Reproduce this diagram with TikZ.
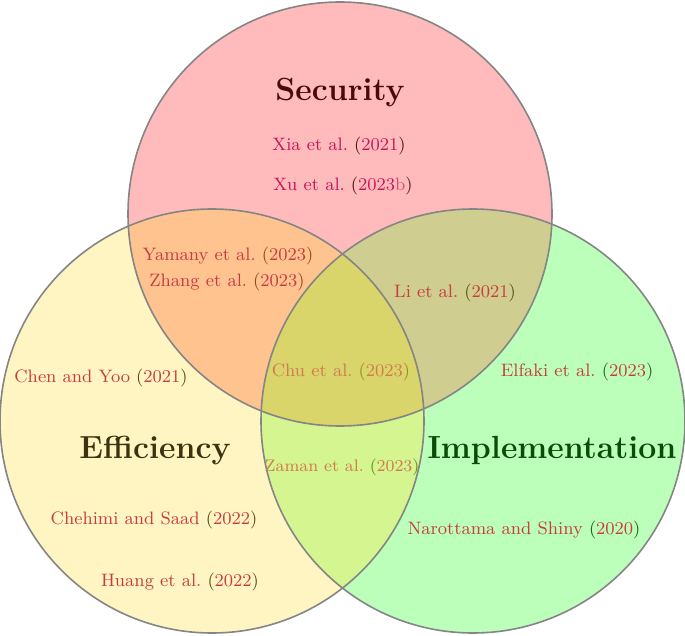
\documentclass[tikz,border=0pt]{standalone}
\usepackage{xcolor}
\definecolor{secfill}{HTML}{FFBBBB}
\definecolor{efffill}{HTML}{FFF5C3}
\definecolor{impfill}{HTML}{BBFFBB}
\definecolor{sefill}{HTML}{FFC390}
\definecolor{sifill}{HTML}{CFCD8F}
\definecolor{eifill}{HTML}{D4F590}
\definecolor{allfill}{HTML}{D9D56A}
\definecolor{edgegray}{HTML}{858585}
\definecolor{sectitle}{HTML}{4B0A0A}
\definecolor{efftitle}{HTML}{3C3210}
\definecolor{imptitle}{HTML}{0A4B0A}
\definecolor{crimsoncite}{HTML}{C8145A}
\definecolor{crimsonb}{HTML}{D0507A}
\definecolor{redcite}{HTML}{C83C40}
\definecolor{orangecite}{HTML}{D27A50}
\definecolor{parsec}{HTML}{501414}
\definecolor{pareff}{HTML}{5A4A14}
\definecolor{parimp}{HTML}{1E6420}
\definecolor{parse}{HTML}{8C4A1E}
\definecolor{parsi}{HTML}{5A5014}
\definecolor{parall}{HTML}{9A8A20}
\definecolor{parei}{HTML}{6A8A20}
\newcommand{\mycite}[4]{\textcolor{#1}{#2}~\textcolor{#4}{(}\textcolor{#1}{#3}\textcolor{#4}{)}}
\tikzset{
  citetext/.style={inner sep=0pt, font=\fontsize{9.0}{11}\selectfont},
  smallcite/.style={inner sep=0pt, font=\fontsize{8.4}{10}\selectfont},
  titletext/.style={inner sep=0pt, font=\fontsize{16}{19}\selectfont\bfseries},
  ring/.style={draw=edgegray, line width=0.8pt}
}
\begin{document}
\begin{tikzpicture}[x=0.5pt, y=-0.5pt]
\useasboundingbox (0,0) rectangle (685,636);
\coordinate (cs) at (340,214);
\coordinate (ce) at (212,421);
\coordinate (ci) at (473,421);
\def\rr{212}
% base fills
\fill[secfill] (cs) circle[radius=\rr];
\fill[efffill] (ce) circle[radius=\rr];
\fill[impfill] (ci) circle[radius=\rr];
% pairwise overlaps
\begin{scope}
  \clip (cs) circle[radius=\rr];
  \fill[sefill] (ce) circle[radius=\rr];
  \fill[sifill] (ci) circle[radius=\rr];
\end{scope}
\begin{scope}
  \clip (ce) circle[radius=\rr];
  \fill[eifill] (ci) circle[radius=\rr];
\end{scope}
\begin{scope}
  \clip (cs) circle[radius=\rr];
  \clip (ce) circle[radius=\rr];
  \fill[allfill] (ci) circle[radius=\rr];
\end{scope}
% outlines
\draw[ring] (cs) circle[radius=\rr];
\draw[ring] (ce) circle[radius=\rr];
\draw[ring] (ci) circle[radius=\rr];
% titles
\node[titletext, text=sectitle] (tsec) at (340,93) {Security};
\node[titletext, text=efftitle] (teff) at (155,450) {Efficiency};
\node[titletext, text=imptitle] (timp) at (552,450) {Implementation};
% security only
\node[citetext] (xia) at (339,146) {\mycite{crimsoncite}{Xia et~al.}{2021}{parsec}};
\node[citetext] (xu) at (343,186) {\textcolor{crimsoncite}{Xu et~al.}~\textcolor{parsec}{(}\textcolor{crimsoncite}{2023}\textcolor{crimsonb}{b}\textcolor{parsec}{)}};
% security & efficiency
\node[citetext] (yamany) at (228,256) {\mycite{redcite}{Yamany et~al.}{2023}{parse}};
\node[citetext] (zhang) at (227,282) {\mycite{redcite}{Zhang et~al.}{2023}{parse}};
% security & implementation
\node[citetext] (li) at (455,293) {\mycite{redcite}{Li et~al.}{2021}{parsi}};
% all three
\node[citetext] (chu) at (341,372) {\mycite{orangecite}{Chu et~al.}{2023}{parall}};
% efficiency only
\node[citetext] (chen) at (101,378) {\mycite{redcite}{Chen and Yoo}{2021}{pareff}};
\node[citetext] (chehimi) at (154,520) {\mycite{redcite}{Chehimi and Saad}{2022}{pareff}};
\node[citetext] (huang) at (180,582) {\mycite{redcite}{Huang et~al.}{2022}{pareff}};
% efficiency & implementation
\node[smallcite] (zaman) at (342,467) {\mycite{orangecite}{Zaman et~al.}{2023}{parei}};
% implementation only
\node[citetext] (elfaki) at (577,372) {\mycite{redcite}{Elfaki et~al.}{2023}{parimp}};
\node[citetext] (narottama) at (524,530) {\mycite{redcite}{Narottama and Shiny}{2020}{parimp}};
\end{tikzpicture}
\end{document}
